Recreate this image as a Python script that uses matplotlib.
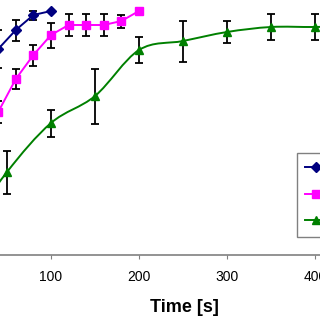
import matplotlib
matplotlib.use('Agg')
import matplotlib.pyplot as plt
from matplotlib.path import Path
from matplotlib.patches import PathPatch

plt.rcParams['font.family'] = ['Liberation Sans', 'DejaVu Sans']

# data (y in arbitrary units, x axis in seconds)
t_blue = [0, 20, 40, 60, 80, 100]
y_blue = [0, 72, 82.4, 90, 96, 97.6]
e_blue = [0, 6, 7.6, 4.2, 1.8, 0]

t_pink = [0, 20, 40, 60, 80, 100, 120, 140, 160, 180, 200]
y_pink = [0, 38, 57.2, 70.4, 80, 88, 92, 92, 92, 93.6, 97.6]
e_pink = [0, 5, 4.4, 4, 4.2, 5, 4.4, 4.4, 4.4, 2.6, 0]

t_green = [0, 50, 100, 150, 200, 250, 300, 350, 400, 450]
y_green = [8, 33.2, 52.8, 63.6, 82, 85.6, 89.2, 91.2, 91.2, 91.6]
e_green = [3, 8.6, 5.4, 11, 5.2, 8.2, 4.4, 5.2, 5.2, 5]

labels = ['Series 1', 'Series 2', 'Series 3']
x_ticks = [0, 100, 200, 300, 400, 500]

fig = plt.figure(figsize=(3.2, 3.2), dpi=100)
ax = fig.add_axes([-37/320, 65/320, 440/320, 275/320])


def smooth_path(xs, ys):
    # excel style smoothed line: catmull-rom turned into bezier segments
    verts = [(xs[0], ys[0])]
    codes = [Path.MOVETO]
    n = len(xs)
    for i in range(n - 1):
        x0, y0 = (xs[i-1], ys[i-1]) if i > 0 else (xs[i], ys[i])
        x3, y3 = (xs[i+2], ys[i+2]) if i + 2 < n else (xs[i+1], ys[i+1])
        c1 = (xs[i] + (xs[i+1] - x0) / 6, ys[i] + (ys[i+1] - y0) / 6)
        c2 = (xs[i+1] - (x3 - xs[i]) / 6, ys[i+1] - (y3 - ys[i]) / 6)
        verts += [c1, c2, (xs[i+1], ys[i+1])]
        codes += [Path.CURVE4] * 3
    return Path(verts, codes)


eb = dict(fmt='none', ecolor='black', elinewidth=1.3, capsize=2.8, capthick=1.3, zorder=2)
ax.errorbar(t_blue, y_blue, yerr=e_blue, **eb)
ax.errorbar(t_pink, y_pink, yerr=e_pink, **eb)
ax.errorbar(t_green, y_green, yerr=e_green, **eb)

ax.plot(t_blue, y_blue, color='#000080', lw=1.4, marker='D', ms=4.6, label=labels[0], zorder=3)
ax.plot(t_pink, y_pink, color='#FF00FF', lw=1.4, marker='s', ms=5.6, label=labels[1], zorder=3)
ax.add_patch(PathPatch(smooth_path(t_green, y_green), facecolor='none', edgecolor='#008000', lw=1.4, zorder=3))
ax.plot(t_green, y_green, color='#008000', ls='none', marker='^', ms=6, zorder=3)
# legend handle for the smoothed series
ax.plot([], [], color='#008000', lw=1.4, marker='^', ms=6, label=labels[2])

ax.set_xlim(0, 500)
ax.set_ylim(0, 110)
ax.set_xticks(x_ticks)
ax.set_xticklabels([str(v) for v in x_ticks], fontsize=10)
ax.set_yticks([])
for s in ['top', 'right', 'left']:
    ax.spines[s].set_visible(False)
ax.spines['bottom'].set_color('#808080')
ax.spines['bottom'].set_linewidth(1.2)
ax.tick_params(axis='x', direction='out', length=3, color='#808080', pad=8)

fig.text(184/320, 1 - 308/320, 'Time [s]', fontsize=13, fontweight='bold', ha='center', va='center')

leg = fig.legend(loc='upper left', bbox_to_anchor=(297/320, 1 - 153/320), fontsize=10,
                 handlelength=1.6, labelspacing=0.9, borderpad=0.6, fancybox=False,
                 framealpha=1, borderaxespad=0)
leg.get_frame().set_edgecolor('#808080')
leg.get_frame().set_linewidth(1.0)

plt.savefig('out.png', dpi=100)
